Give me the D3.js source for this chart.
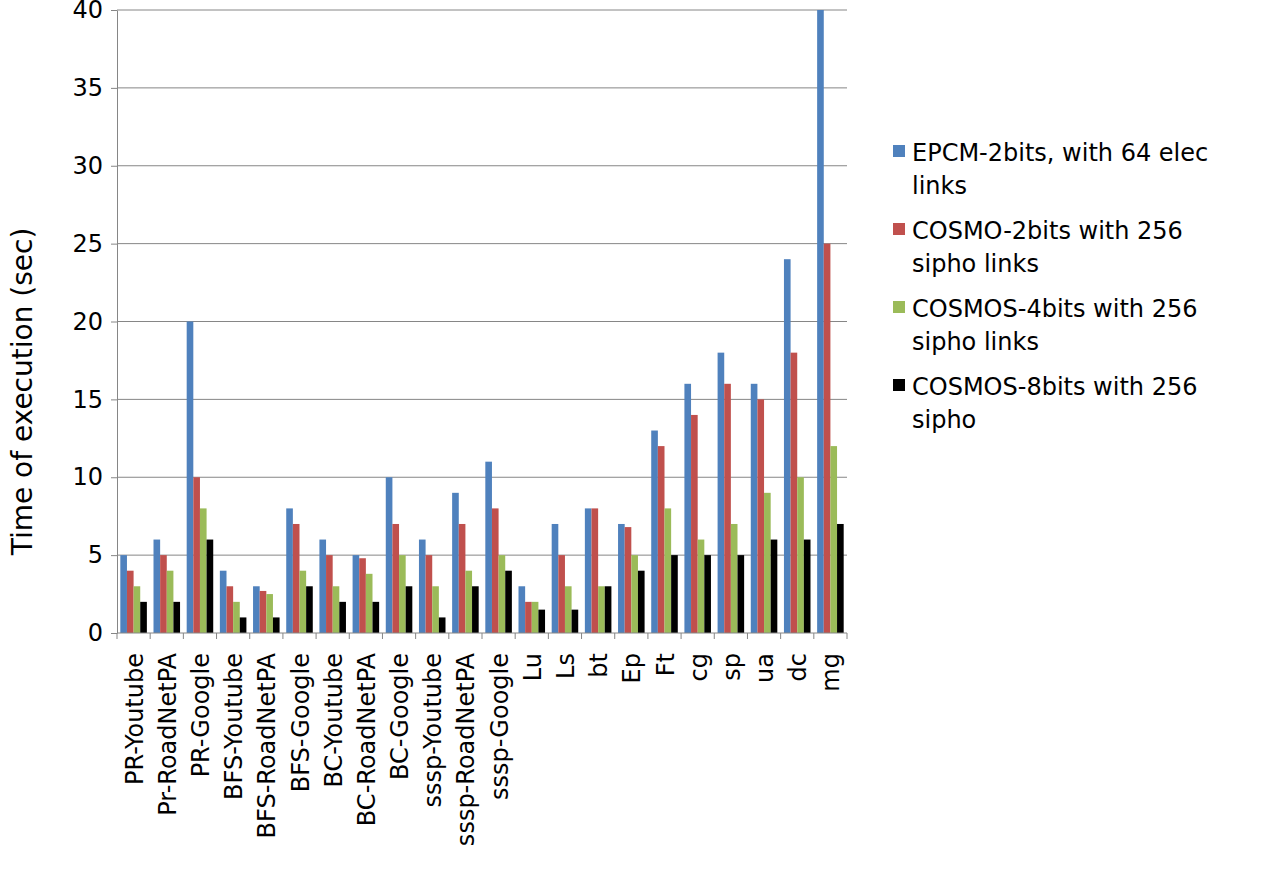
<!DOCTYPE html>
<html>
<head>
<meta charset="utf-8">
<script src="https://cdn.jsdelivr.net/npm/d3@7"></script>
<style>
body { margin: 0; background: #fff; }
text { font-family: "DejaVu Sans", sans-serif; fill: #000; }
</style>
</head>
<body>
<div id="chart"></div>
<script>
var categories = ['PR-Youtube', 'Pr-RoadNetPA', 'PR-Google', 'BFS-Youtube', 'BFS-RoadNetPA', 'BFS-Google',
    'BC-Youtube', 'BC-RoadNetPA', 'BC-Google', 'sssp-Youtube', 'sssp-RoadNetPA', 'sssp-Google',
    'Lu', 'Ls', 'bt', 'Ep', 'Ft', 'cg', 'sp', 'ua', 'dc', 'mg']

var seriesNames = ['EPCM-2bits, with 64 elec links', 'COSMO-2bits with 256 sipho links',
    'COSMOS-4bits with 256 sipho links', 'COSMOS-8bits with 256 sipho']
var legendLines = [['EPCM-2bits, with 64 elec', 'links'], ['COSMO-2bits with 256', 'sipho links'],
    ['COSMOS-4bits with 256', 'sipho links'], ['COSMOS-8bits with 256', 'sipho']]

var epcm2 = [5, 6, 20, 4, 3, 8, 6, 5, 10, 6, 9, 11, 3, 7, 8, 7, 13, 16, 18, 16, 24, 40]
var cosmo2 = [4, 5, 10, 3, 2.7, 7, 5, 4.8, 7, 5, 7, 8, 2, 5, 8, 6.8, 12, 14, 16, 15, 18, 25]
var cosmos4 = [3, 4, 8, 2, 2.5, 4, 3, 3.8, 5, 3, 4, 5, 2, 3, 3, 5, 8, 6, 7, 9, 10, 12]
var cosmos8 = [2, 2, 6, 1, 1, 3, 2, 2, 3, 1, 3, 4, 1.5, 1.5, 3, 4, 5, 5, 5, 6, 6, 7]
var yTicks = [0, 5, 10, 15, 20, 25, 30, 35, 40]

var colors = ['#4F81BD', '#C0504D', '#9BBB59', '#000000']
var series = [epcm2, cosmo2, cosmos4, cosmos8]

var svg = d3.select('#chart').append('svg')
    .attr('width', 1266)
    .attr('height', 882)

var plotLeft = 117, plotRight = 847, plotTop = 10, plotBottom = 633

var xScale = d3.scaleBand().domain(categories).range([plotLeft, plotRight]).paddingInner(0.2).paddingOuter(0.1)
var xSub = d3.scaleBand().domain(d3.range(4)).range([0, xScale.bandwidth()])
var yScale = d3.scaleLinear().domain([0, 40]).range([plotBottom, plotTop])

// gridlines
svg.selectAll('.grid').data(yTicks.slice(1))
    .enter().append('line')
    .attr('x1', plotLeft).attr('x2', plotRight)
    .attr('y1', d => yScale(d)).attr('y2', d => yScale(d))
    .attr('stroke', '#868686').attr('stroke-width', 1)

// bars
series.forEach((vals, s) => {
    svg.selectAll('.bar' + s).data(vals)
        .enter().append('rect')
        .attr('x', (d, i) => xScale(categories[i]) + xSub(s))
        .attr('width', xSub.bandwidth())
        .attr('y', d => yScale(d))
        .attr('height', d => plotBottom - yScale(d))
        .attr('fill', colors[s])
})

// y axis
var yAxis = svg.append('g').attr('transform', `translate(${plotLeft},0)`)
    .call(d3.axisLeft(yScale).tickValues(yTicks).tickSize(6).tickSizeOuter(0))
yAxis.selectAll('path, line').attr('stroke', '#868686')
yAxis.selectAll('text').style('font-size', '24px').style('font-family', '"DejaVu Sans", sans-serif').attr('x', -14)

// x axis
var xAxis = svg.append('g').attr('transform', `translate(0,${plotBottom})`)
xAxis.append('line').attr('x1', plotLeft).attr('x2', plotRight).attr('stroke', '#868686')
xAxis.selectAll('.tk').data(d3.range(categories.length + 1))
    .enter().append('line')
    .attr('x1', i => plotLeft + i * (plotRight - plotLeft) / categories.length)
    .attr('x2', i => plotLeft + i * (plotRight - plotLeft) / categories.length)
    .attr('y1', 0).attr('y2', 6).attr('stroke', '#868686')
xAxis.selectAll('.lbl').data(categories)
    .enter().append('text')
    .attr('transform', d => `translate(${xScale(d) + xScale.bandwidth() / 2 + 9},${20}) rotate(-90)`)
    .attr('text-anchor', 'end')
    .style('font-size', '24px')
    .text(d => d)

// y label
svg.append('text')
    .attr('transform', `translate(32,${(plotTop + plotBottom) / 2 + 70}) rotate(-90)`)
    .attr('text-anchor', 'middle')
    .style('font-size', '28px')
    .text('Time of execution (sec)')

// legend
var legend = svg.selectAll('.legend').data(seriesNames)
    .enter().append('g')
    .attr('transform', (d, i) => `translate(893,${152 + i * 78})`)
legend.append('rect').attr('x', 0).attr('y', -7).attr('width', 12).attr('height', 12)
    .attr('fill', (d, i) => colors[i])
legend.each(function(d, i) {
    var t = d3.select(this).append('text').style('font-size', '24px')
    legendLines[i].forEach((ln, j) => {
        t.append('tspan').attr('x', 19).attr('y', 9 + j * 33).text(ln)
    })
})
</script>
</body>
</html>
